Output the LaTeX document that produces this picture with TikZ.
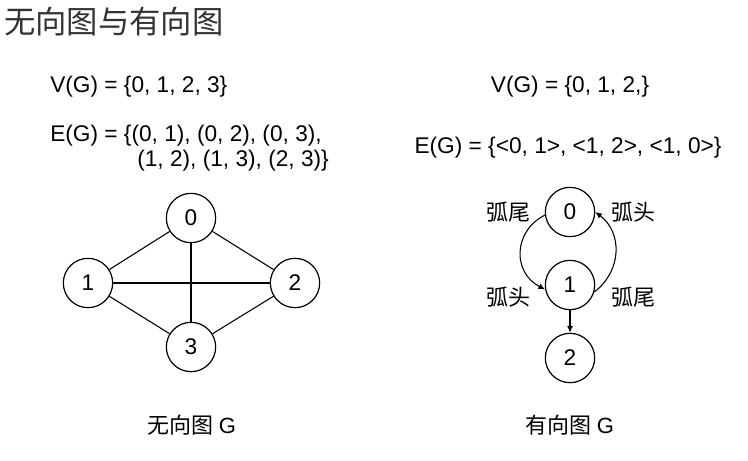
\documentclass[tikz,border=0pt]{standalone}
\usepackage{fontspec}
\setmainfont{Liberation Sans}
\newfontfamily\cjk{Noto Sans CJK SC}
\usetikzlibrary{arrows.meta, positioning}
\tikzset{
  vertex/.style={
    draw, circle, line width=0.9pt, minimum size=37pt, inner sep=0pt,
    font=\fontsize{17}{20}\selectfont
  },
  setlabel/.style={
    font=\fontsize{17}{20}\selectfont, inner sep=0pt
  },
  cjklabel/.style={
    font=\cjk\fontsize{16.5}{20}\selectfont, inner sep=0pt
  },
  edgeline/.style={line width=0.8pt},
  arcarrow/.style={
    -{Latex[length=5pt, width=4.5pt]}, line width=0.8pt
  },
}

\begin{document}
\begin{tikzpicture}[x=0.75pt, y=-0.75pt]
  \useasboundingbox (0,0) rectangle (748,460);

  % ── Title ──────────────────────────────────────────────────────
  \node[font=\cjk\fontsize{23.5}{28}\selectfont, text=black!80,
        inner sep=0pt, anchor=west]
    (title) at (4, 22) {无向图与有向图};

  % ── Undirected graph: sets ─────────────────────────────────────
  \node[setlabel, anchor=west] (vleft) at (50, 87) {V(G) = \{0, 1, 2, 3\}};
  \node[setlabel, anchor=west] (eleft) at (50, 136)
    {E(G) = \{(0, 1), (0, 2), (0, 3),};
  \node[setlabel, anchor=west] (eleft2) at (137, 161)
    {(1, 2), (1, 3), (2, 3)\}};

  % ── Undirected graph: vertices and edges ───────────────────────
  \node[vertex] (u0) at (191, 218) {0};
  \node[vertex] (u1) at (88, 283) {1};
  \node[vertex] (u2) at (295, 283) {2};
  \node[vertex] (u3) at (191, 347) {3};

  \draw[edgeline] (u0) -- (u1);
  \draw[edgeline] (u0) -- (u2);
  \draw[edgeline] (u0) -- (u3);
  \draw[edgeline] (u1) -- (u2);
  \draw[edgeline] (u1) -- (u3);
  \draw[edgeline] (u2) -- (u3);

  \node[cjklabel] (ucap) at (192, 425) {无向图 {\fontspec{Liberation Sans}G}};

  % ── Directed graph: sets ───────────────────────────────────────
  \node[setlabel] (vright) at (570, 87) {V(G) = \{0, 1, 2,\}};
  \node[setlabel] (eright) at (568, 148)
    {E(G) = \{<0, 1>, <1, 2>, <1, 0>\}};

  % ── Directed graph: vertices and arcs ──────────────────────────
  \node[vertex] (d0) at (570, 212) {0};
  \node[vertex] (d1) at (570, 285) {1};
  \node[vertex] (d2) at (570, 358) {2};

  \draw[arcarrow] (d0.187) to[out=207, in=153, looseness=1.25] (d1.190);
  \draw[arcarrow] (d1.-16) to[out=37, in=-37, looseness=1.1] (d0.0);
  \draw[arcarrow] (d1) -- (d2);

  \node[cjklabel] (tail0) at (508, 212) {弧尾};
  \node[cjklabel] (head0) at (633, 212) {弧头};
  \node[cjklabel] (head1) at (508, 297) {弧头};
  \node[cjklabel] (tail1) at (633, 297) {弧尾};

  \node[cjklabel] (dcap) at (570, 425) {有向图 {\fontspec{Liberation Sans}G}};
\end{tikzpicture}
\end{document}
